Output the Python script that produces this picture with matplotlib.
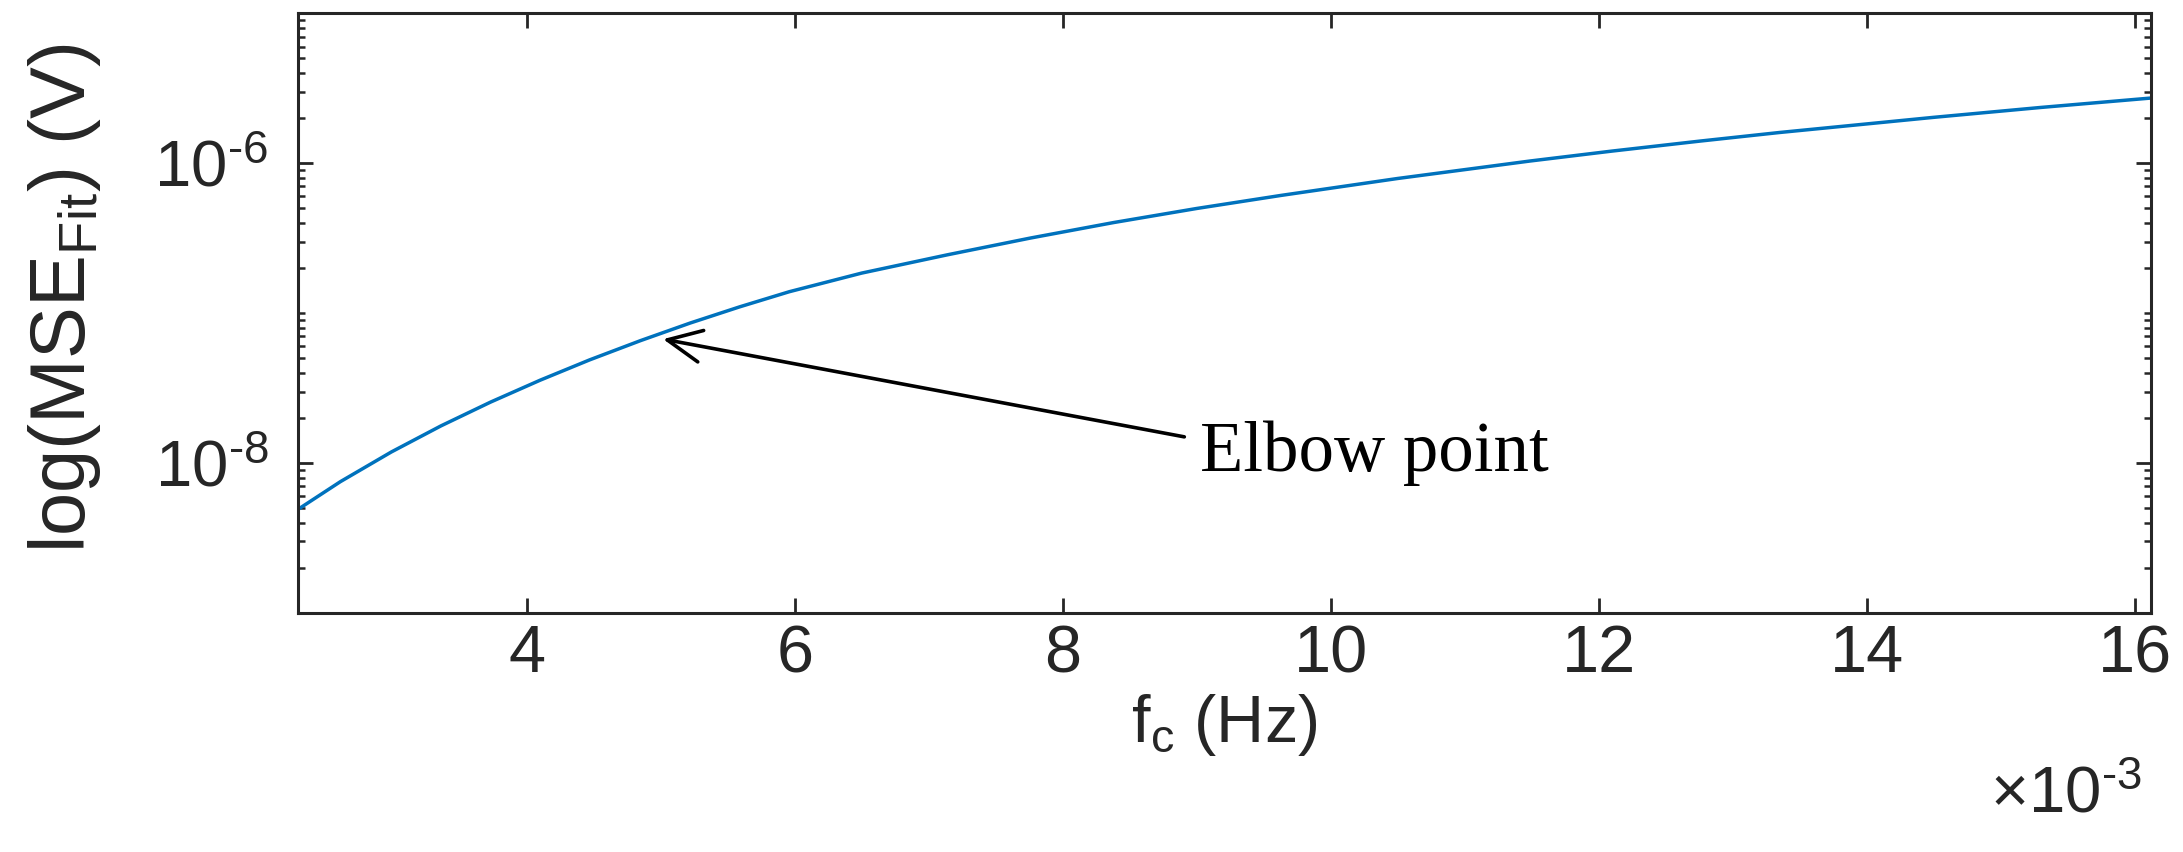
import numpy as np
import matplotlib
matplotlib.use("Agg")
import matplotlib.pyplot as plt
from matplotlib.ticker import FixedLocator, LogLocator, FuncFormatter, NullFormatter

# cut-off frequency, read in units of 1e-3 Hz
fc_milli = [2.29, 2.61, 2.99, 3.36, 3.73, 4.10, 4.47, 4.85, 5.22, 5.59,
            5.96, 6.50, 7.14, 7.76, 8.38, 9.00, 9.63, 10.5, 11.49, 12.1,
            12.76, 13.35, 14.5, 15.3, 16.12]
# MSE of the fit (V)
mse_fit = [4.89e-9, 7.52e-9, 1.186e-8, 1.77e-8, 2.55e-8, 3.57e-8, 4.88e-8,
           6.56e-8, 8.59e-8, 1.102e-7, 1.39e-7, 1.85e-7, 2.45e-7, 3.17e-7,
           4.02e-7, 4.99e-7, 6.10e-7, 7.91e-7, 1.035e-6, 1.205e-6, 1.406e-6,
           1.603e-6, 2.023e-6, 2.355e-6, 2.72e-6]

xtick_milli = [4, 6, 8, 10, 12, 14, 16]
ytick_vals = [1e-8, 1e-6]

# elbow point annotation (tip on the curve, tail near the text)
elbow_xy = (5.018e-3, 6.71e-8)
tail_xy = (8.908e-3, 1.496e-8)
label_xy = (9.028e-3, 8.79e-9)

plt.rcParams['font.family'] = ['Liberation Sans', 'DejaVu Sans']
plt.rcParams['mathtext.fontset'] = 'custom'
plt.rcParams['mathtext.rm'] = 'Liberation Sans'
plt.rcParams['mathtext.it'] = 'Liberation Sans'
plt.rcParams['mathtext.bf'] = 'Liberation Sans:bold'

axis_col = '#262626'

fig = plt.figure(figsize=(21.83, 8.52), dpi=100)
ax = fig.add_axes([0.1363, 0.2805, 0.8489, 0.7039])

fc = np.array(fc_milli) * 1e-3
ax.plot(fc, mse_fit, color='#0072BD', lw=2.5, solid_joinstyle='round')

ax.set_yscale('log')
ax.set_xlim(fc[0], fc[-1])
ax.set_ylim(1e-9, 1e-5)

ax.xaxis.set_major_locator(FixedLocator(np.array(xtick_milli) * 1e-3))
ax.xaxis.set_major_formatter(FuncFormatter(lambda v, p: f"{v * 1e3:g}"))
ax.yaxis.set_major_locator(FixedLocator(ytick_vals))
ax.yaxis.set_major_formatter(
    FuncFormatter(lambda v, p: r"$\mathregular{10^{\text{-}%d}}$" % abs(round(np.log10(v)))))
ax.yaxis.set_minor_locator(LogLocator(base=10, subs=np.arange(1, 10), numticks=50))
ax.yaxis.set_minor_formatter(NullFormatter())

for s in ax.spines.values():
    s.set_color(axis_col)
    s.set_linewidth(2.2)

ax.tick_params(which='both', direction='in', top=True, right=True,
               color=axis_col, labelcolor=axis_col)
ax.tick_params(which='major', length=11, width=2)
ax.tick_params(which='minor', length=5, width=1.8)
ax.tick_params(axis='x', labelsize=48, pad=8)
ax.tick_params(axis='y', labelsize=47, pad=21)

ax.set_xlabel(r"f$_\mathregular{c}$ (Hz)", fontsize=48, color=axis_col, labelpad=4)
ax.set_ylabel(r"log(MSE$_\mathregular{Fit}$) (V)", fontsize=56, color=axis_col)
ax.yaxis.set_label_coords(-0.105, 0.525)

# exponent of the x axis
ax.text(0.995, -0.332, r"$\mathregular{\times10^{\text{-}3}}$", transform=ax.transAxes,
        ha='right', va='baseline', fontsize=47, color=axis_col)

ax.annotate("", xy=elbow_xy, xytext=tail_xy,
            arrowprops=dict(arrowstyle="->,head_length=2.45,head_width=1.15",
                            lw=2.6, color='black', shrinkA=0, shrinkB=0,
                            mutation_scale=10))
ax.text(label_xy[0], label_xy[1], "Elbow point", family='Liberation Serif',
        fontsize=51, ha='left', va='baseline', color='black')

fig.savefig("out.png", dpi=100)
